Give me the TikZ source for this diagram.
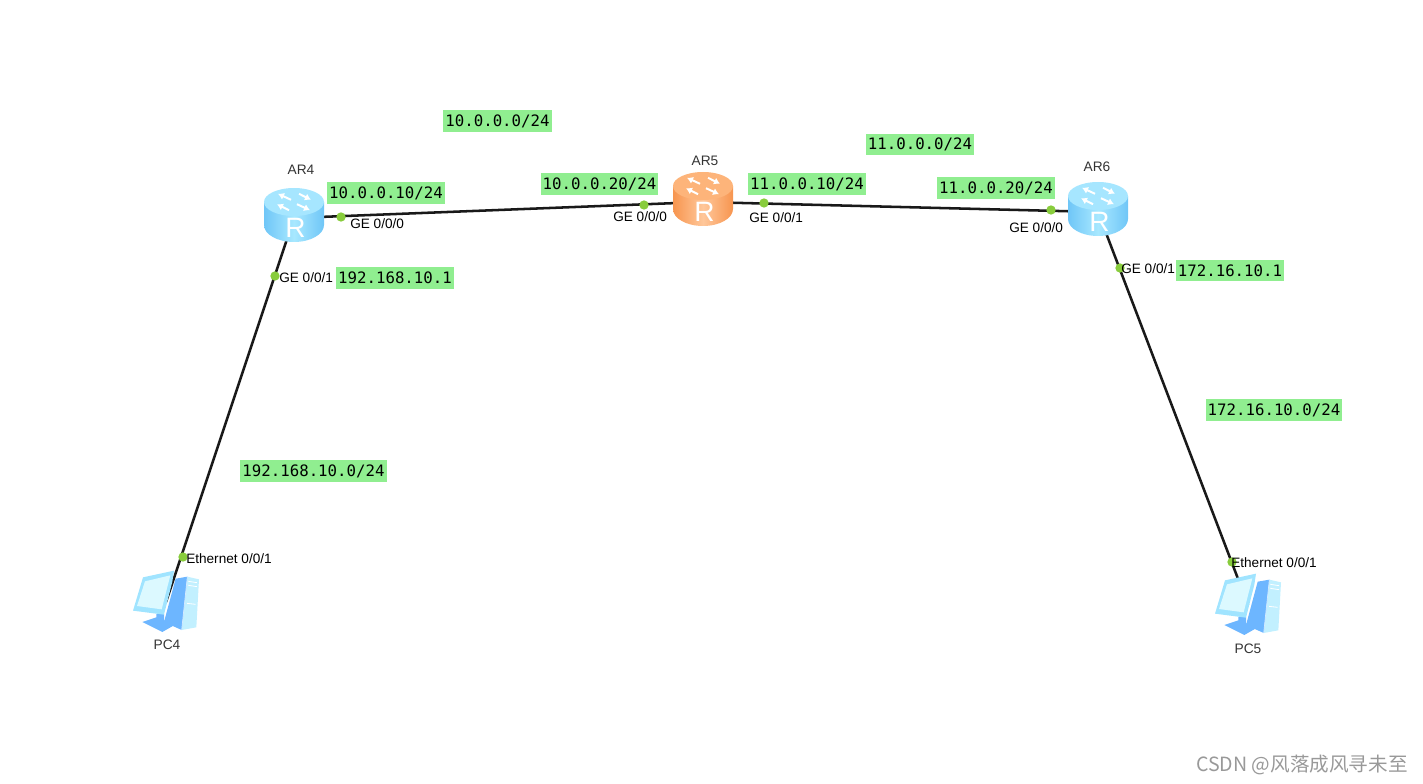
\documentclass[tikz,border=0pt]{standalone}
\usepackage{fontspec}
\setmainfont{Liberation Sans}
\newfontfamily\monof{DejaVu Sans Mono}
\newfontfamily\cjkf{Noto Sans CJK SC}
\usetikzlibrary{arrows.meta}
\definecolor{ipgreen}{HTML}{90EE90}
\definecolor{dotgreen}{HTML}{88CC3C}
\definecolor{bluetop}{HTML}{A6E6FF}
\definecolor{blueside}{HTML}{6FC6F7}
\definecolor{bluelight}{HTML}{A8E8FF}
\definecolor{oratop}{HTML}{FDB47A}
\definecolor{oraside}{HTML}{F7954F}
\definecolor{oralight}{HTML}{FFC79A}
\definecolor{pcframe}{HTML}{A0E4FF}
\definecolor{pcscreen}{HTML}{DCF9FF}
\definecolor{pcblue}{HTML}{6DB6FF}
\definecolor{pcface}{HTML}{C2F0FF}
\tikzset{
  iplabel/.style={fill=ipgreen,font=\monof\fontsize{11.8}{14}\selectfont,inner xsep=1.5pt,inner ysep=0pt,minimum height=16pt,text=black},
  iflabel/.style={font=\fontsize{10.2}{12}\selectfont,inner sep=0pt,anchor=west,text=black},
  namelabel/.style={font=\fontsize{10.3}{12}\selectfont,inner sep=0pt,text=black!80},
  portdot/.style={circle,fill=dotgreen,inner sep=0pt,minimum size=7pt},
  link/.style={draw=black!90,line width=1.9pt},
  swirl/.style={white,line width=1.5pt,-{Latex[length=4.5pt,width=5.5pt]}},
  pics/router/.style args={#1/#2/#3}{code={
    \path[left color=#2,right color=#2,middle color=#3]
      (-30,-16) -- (-30,7) arc[start angle=180,end angle=0,x radius=30,y radius=17] -- (30,-16) -- cycle;
    \path[fill=#1] (0,-16) ellipse[x radius=30,y radius=14];
    \begin{scope}[shift={(0,-16)},yscale=.55]
      \draw[swirl] (-3,-4) -- (-16,-15);
      \draw[swirl] (5,-15) -- (17,-4);
      \draw[swirl] (3,4) -- (16,15);
      \draw[swirl] (-5,15) -- (-17,4);
    \end{scope}
    \node[text=white,inner sep=0pt,font=\fontsize{21}{22}\selectfont] at (1.5,10) {R};
  }},
  pics/pc/.style={code={
    \begin{scope}[x=.25pt,y=-.25pt,shift={(-141,-186)}]
      \path[fill=pcblue] (70,246) -- (112,232) -- (112,222) -- (135,222) -- (135,240) -- (165,256) -- (130,276) -- cycle;
      \path[fill=pcface] (205,110) -- (240,118) -- (232,262) -- (188,270) -- cycle;
      \path[fill=pcblue] (170,116) -- (205,110) -- (188,270) -- (135,246) -- cycle;
      \path[fill=pcframe] (72,112) -- (165,92) -- (160,125) -- (135,224) -- (42,212) -- cycle;
      \path[fill=pcscreen] (78,124) -- (154,106) -- (128,208) -- (54,198) -- cycle;
      \draw[white,line width=.6pt] (208,124) -- (234,128) (208,136) -- (234,140) (204,190) -- (230,193);
      \path[draw=white!70!pcblue,line width=.5pt] (205,110) -- (188,270);
    \end{scope}
  }}
}
\begin{document}
\begin{tikzpicture}[x=.75pt,y=-.75pt]
\useasboundingbox (0,0) rectangle (1423,784);
\coordinate (ar4) at (294,218);
\coordinate (ar5) at (703,202);
\coordinate (ar6) at (1098,212);
\coordinate (pc4) at (166,602);
\coordinate (pc5) at (1248,605);

\draw[link] (ar4) -- (ar5);
\draw[link] (ar5) -- (ar6);
\draw[link] (ar4) -- (pc4);
\draw[link] (ar6) -- (pc5);

\pic at (ar4) {router=bluetop/blueside/bluelight};
\pic at (ar5) {router=oratop/oraside/oralight};
\pic at (ar6) {router=bluetop/blueside/bluelight};
\pic at (pc4) {pc};
\pic at (pc5) {pc};

\node[portdot] (d1) at (341,217) {};
\node[portdot] (d2) at (275,276) {};
\node[portdot] (d3) at (644,205) {};
\node[portdot] (d4) at (764,203) {};
\node[portdot] (d5) at (1051,210) {};
\node[portdot] (d6) at (1120,268) {};
\node[portdot] (d7) at (183,557) {};
\node[portdot] (d8) at (1232,562) {};

\node[namelabel] (n1) at (301,170) {AR4};
\node[namelabel] (n2) at (705,161) {AR5};
\node[namelabel] (n3) at (1097,167) {AR6};
\node[namelabel] (n4) at (167,645) {PC4};
\node[namelabel] (n5) at (1248,649) {PC5};

\node[iflabel] (i1) at (350,224) {GE 0/0/0};
\node[iflabel] (i2) at (279,278) {GE 0/0/1};
\node[iflabel] (i3) at (613,217) {GE 0/0/0};
\node[iflabel] (i4) at (749,218) {GE 0/0/1};
\node[iflabel] (i5) at (1009,228) {GE 0/0/0};
\node[iflabel] (i6) at (1121,269) {GE 0/0/1};
\node[iflabel] (i7) at (186,559) {Ethernet 0/0/1};
\node[iflabel] (i8) at (1231,563) {Ethernet 0/0/1};

\node[iplabel] (p1) at (497.5,121) {10.0.0.0/24};
\node[iplabel] (p2) at (386,193) {10.0.0.10/24};
\node[iplabel] (p3) at (599.5,184) {10.0.0.20/24};
\node[iplabel] (p4) at (807,184) {11.0.0.10/24};
\node[iplabel] (p5) at (920,144.5) {11.0.0.0/24};
\node[iplabel] (p6) at (996,188) {11.0.0.20/24};
\node[iplabel] (p7) at (395,278) {192.168.10.1};
\node[iplabel] (p8) at (1230,270.5) {172.16.10.1};
\node[iplabel] (p9) at (1274,410) {172.16.10.0/24};
\node[iplabel] (p10) at (313.5,471) {192.168.10.0/24};

\node[anchor=west,inner sep=0pt,text=black!40,font=\cjkf\fontsize{14.7}{16}\selectfont] (wm) at (1196,765) {CSDN @风落成风寻未至};
\end{tikzpicture}
\end{document}
